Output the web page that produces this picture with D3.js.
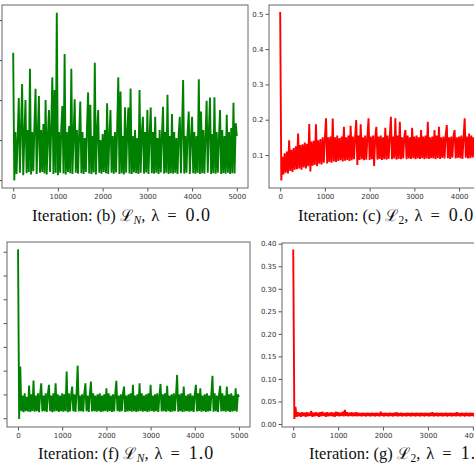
<!DOCTYPE html>
<html>
<head>
<meta charset="utf-8">
<script src="https://cdn.jsdelivr.net/npm/d3@7"></script>
<style>
  html, body { margin: 0; padding: 0; background: #fff; overflow: hidden; }
  .tick text { font-family: "DejaVu Sans", sans-serif; font-size: 7px; fill: #333; }
  .tick line { stroke: #555; }
  .cap { font-family: "Liberation Serif", "DejaVu Serif", serif; font-size: 16.5px; fill: #111; }
</style>
</head>
<body>
<svg id="chart" width="474" height="474"></svg>
<script>
// iterations are logged every STEP steps, 0..5000
const STEP = 25;
const xTicks = [0, 1000, 2000, 3000, 4000, 5000];

// (b) L_N, lambda = 0.0  (y in axis units, tick labels are cropped off)
const lossB = [
  3.18, -0.01, 1.20, 0.15, 1.05, 2.05, 0.18, 1.30, 2.40, 0.12, 1.10, 2.00, 0.17, 1.25, 0.20, 2.78, 0.14, 1.20, 0.22, 1.35,
  2.28, 0.15, 1.15, 2.10, 0.18, 1.25, 0.20, 1.40, 0.16, 2.00, 0.14, 1.10, 1.75, 0.20, 1.30, 2.57, 0.15, 2.25, 0.18, 4.18,
  0.12, 1.20, 0.18, 1.30, 1.85, 0.16, 3.15, 0.14, 1.20, 0.20, 1.35, 0.17, 2.78, 0.15, 1.10, 2.02, 0.18, 1.25, 0.16, 1.15,
  1.96, 0.17, 1.20, 0.15, 1.05, 0.20, 1.30, 2.19, 0.16, 1.88, 0.15, 1.10, 0.19, 2.93, 0.14, 1.20, 1.75, 0.18, 1.00, 0.16,
  1.15, 0.20, 1.25, 0.17, 1.92, 0.15, 1.05, 1.75, 0.18, 1.10, 0.16, 1.20, 0.19, 1.30, 2.57, 0.15, 2.21, 0.17, 1.10, 0.14,
  1.82, 0.18, 1.20, 1.81, 0.16, 2.29, 0.15, 1.10, 0.19, 1.25, 0.17, 1.05, 0.15, 2.25, 0.18, 1.15, 1.58, 0.16, 1.20, 0.19,
  1.75, 0.15, 1.10, 1.81, 0.17, 1.20, 0.16, 1.58, 0.18, 1.05, 0.15, 1.25, 0.19, 1.10, 1.83, 0.16, 1.20, 0.18, 2.13, 0.15,
  1.10, 0.17, 1.65, 0.16, 1.20, 0.18, 1.05, 0.15, 1.15, 1.58, 0.17, 1.25, 2.50, 0.16, 1.10, 0.18, 1.20, 1.71, 0.15, 1.05,
  1.58, 0.17, 1.20, 0.16, 1.10, 0.18, 2.52, 0.15, 1.71, 0.17, 1.25, 0.16, 1.10, 1.98, 0.18, 1.20, 2.06, 0.15, 1.15, 0.17,
  2.07, 0.16, 1.20, 0.18, 1.05, 1.75, 0.15, 1.25, 0.17, 1.10, 0.16, 1.63, 0.18, 1.20, 0.15, 1.30, 0.17, 1.93, 0.16, 1.42, 1.10
];

// (c) L_2, lambda = 0.0
const lossC = [
  0.505, 0.028, 0.095, 0.045, 0.105, 0.050, 0.110, 0.048, 0.142, 0.055, 0.115, 0.052, 0.120, 0.058, 0.125, 0.060, 0.161, 0.062, 0.128, 0.058,
  0.130, 0.065, 0.135, 0.062, 0.132, 0.068, 0.188, 0.053, 0.138, 0.070, 0.140, 0.072, 0.187, 0.068, 0.142, 0.075, 0.145, 0.073, 0.150, 0.078,
  0.148, 0.204, 0.076, 0.150, 0.080, 0.152, 0.078, 0.203, 0.082, 0.150, 0.080, 0.155, 0.083, 0.148, 0.085, 0.152, 0.082, 0.180, 0.084, 0.150,
  0.086, 0.155, 0.083, 0.183, 0.085, 0.152, 0.088, 0.150, 0.199, 0.072, 0.155, 0.086, 0.187, 0.088, 0.150, 0.085, 0.155, 0.087, 0.150, 0.204,
  0.086, 0.152, 0.088, 0.155, 0.069, 0.150, 0.180, 0.087, 0.152, 0.089, 0.155, 0.086, 0.150, 0.088, 0.177, 0.087, 0.155, 0.089, 0.150, 0.208,
  0.088, 0.152, 0.090, 0.204, 0.087, 0.155, 0.089, 0.194, 0.088, 0.150, 0.090, 0.152, 0.171, 0.088, 0.155, 0.090, 0.150, 0.089, 0.177, 0.091,
  0.152, 0.088, 0.155, 0.090, 0.150, 0.089, 0.171, 0.091, 0.152, 0.088, 0.155, 0.090, 0.194, 0.089, 0.150, 0.091, 0.152, 0.090, 0.171, 0.088,
  0.155, 0.091, 0.180, 0.089, 0.150, 0.092, 0.152, 0.090, 0.155, 0.185, 0.091, 0.150, 0.089, 0.152, 0.092, 0.155, 0.171, 0.090, 0.150, 0.092,
  0.152, 0.091, 0.155, 0.089, 0.150, 0.204, 0.092, 0.152, 0.090, 0.161, 0.091, 0.155, 0.093, 0.150, 0.090, 0.180, 0.092, 0.152, 0.091, 0.155,
  0.093, 0.175, 0.090, 0.152, 0.092, 0.150, 0.091, 0.190, 0.093, 0.155, 0.090, 0.152, 0.092, 0.170, 0.091, 0.150, 0.093, 0.155, 0.092, 0.150, 0.120
];

// (f) L_N, lambda = 1.0  (y in axis units, tick labels are cropped off)
const lossF = [
  7.10, -0.03, 2.17, 0.30, 0.95, 0.25, 1.05, 0.30, 0.90, 0.28, 1.37, 0.26, 1.00, 0.30, 1.58, 0.27, 0.95, 0.29, 1.05, 0.25,
  1.00, 1.47, 0.28, 0.95, 0.30, 1.05, 0.26, 1.00, 1.40, 0.29, 0.95, 0.25, 1.05, 0.28, 1.47, 0.30, 1.00, 0.26, 0.95, 0.29,
  1.05, 0.27, 1.00, 0.30, 1.96, 0.25, 1.05, 0.28, 0.95, 1.33, 0.29, 1.00, 0.26, 1.05, 2.21, 0.28, 0.95, 0.30, 1.00, 0.27,
  1.05, 1.47, 0.29, 0.95, 0.26, 1.00, 1.54, 0.28, 1.05, 0.30, 0.95, 0.27, 1.00, 0.29, 1.05, 0.26, 0.95, 0.28, 1.00, 0.30,
  1.26, 0.27, 1.05, 0.29, 0.95, 0.26, 1.00, 0.28, 1.05, 1.57, 0.30, 0.95, 0.27, 1.00, 0.29, 1.05, 1.33, 0.26, 0.95, 0.28,
  1.00, 0.30, 1.05, 0.27, 1.40, 0.29, 0.95, 0.26, 1.00, 0.28, 1.47, 0.30, 1.05, 0.27, 0.95, 0.29, 1.00, 0.26, 1.05, 0.28,
  1.40, 0.30, 0.95, 0.27, 1.00, 0.29, 1.05, 0.26, 0.95, 1.44, 0.28, 1.00, 0.30, 1.05, 0.27, 1.36, 0.29, 0.95, 0.26, 1.00,
  0.28, 1.05, 0.30, 0.95, 1.82, 0.27, 1.00, 0.29, 1.05, 0.26, 1.33, 0.28, 0.95, 0.30, 1.00, 0.27, 1.05, 0.29, 0.95, 0.26,
  1.00, 1.40, 0.28, 1.05, 0.30, 1.26, 0.27, 0.95, 0.29, 1.00, 0.26, 1.05, 0.28, 0.95, 0.30, 1.00, 1.78, 0.27, 1.05, 0.29,
  0.95, 0.26, 1.00, 1.36, 0.28, 1.05, 0.30, 0.95, 0.27, 1.33, 0.29, 1.00, 0.26, 1.05, 0.28, 0.95, 0.30, 1.26, 0.27, 1.00, 0.90
];

// (g) L_2, lambda = 1.0
const lossG = [
  0.387, 0.011, 0.038, 0.016, 0.026, 0.017, 0.025, 0.016, 0.026, 0.018, 0.025, 0.016, 0.026, 0.017, 0.025, 0.018, 0.029, 0.016, 0.025, 0.017,
  0.026, 0.018, 0.025, 0.016, 0.026, 0.017, 0.027, 0.018, 0.025, 0.016, 0.026, 0.017, 0.025, 0.018, 0.026, 0.017, 0.025, 0.016, 0.027, 0.018,
  0.026, 0.017, 0.025, 0.018, 0.027, 0.017, 0.031, 0.018, 0.026, 0.017, 0.025, 0.018, 0.026, 0.017, 0.025, 0.018, 0.026, 0.017, 0.025, 0.018,
  0.024, 0.017, 0.025, 0.018, 0.024, 0.017, 0.025, 0.018, 0.024, 0.017, 0.025, 0.018, 0.024, 0.017, 0.025, 0.018, 0.024, 0.017, 0.027, 0.018,
  0.024, 0.017, 0.025, 0.018, 0.024, 0.017, 0.025, 0.018, 0.024, 0.017, 0.025, 0.018, 0.026, 0.017, 0.024, 0.018, 0.025, 0.017, 0.024, 0.018,
  0.024, 0.017, 0.025, 0.018, 0.024, 0.017, 0.025, 0.018, 0.024, 0.017, 0.025, 0.018, 0.024, 0.017, 0.025, 0.018, 0.024, 0.017, 0.025, 0.018,
  0.024, 0.017, 0.025, 0.018, 0.026, 0.017, 0.024, 0.018, 0.025, 0.017, 0.024, 0.018, 0.025, 0.017, 0.024, 0.018, 0.025, 0.017, 0.024, 0.018,
  0.025, 0.017, 0.024, 0.018, 0.025, 0.017, 0.026, 0.018, 0.024, 0.017, 0.025, 0.018, 0.024, 0.017, 0.025, 0.018, 0.024, 0.017, 0.025, 0.018,
  0.024, 0.017, 0.025, 0.018, 0.024, 0.017, 0.025, 0.018, 0.026, 0.017, 0.024, 0.018, 0.025, 0.017, 0.024, 0.018, 0.025, 0.017, 0.024, 0.018,
  0.025, 0.017, 0.024, 0.018, 0.025, 0.017, 0.024, 0.018, 0.025, 0.017, 0.024, 0.018, 0.025, 0.017, 0.024, 0.018, 0.025, 0.017, 0.024, 0.018, 0.022
];

const ticksB = [0, 1, 2, 3, 4];
const ticksC = [0.1, 0.2, 0.3, 0.4, 0.5];
const ticksF = [0, 1, 2, 3, 4, 5, 6, 7];
const ticksG = [0, 0.05, 0.10, 0.15, 0.20, 0.25, 0.30, 0.35, 0.40];

const svg = d3.select("#chart");
const noLabel = () => "";   // left-column y labels lie outside the cropped figure

const panels = [
  { data: lossB, color: "#008000", left: 2, right: 248, top: 5, bottom: 188,
    yDomain: [-0.2, 4.375], yTicks: ticksB, yFmt: noLabel,
    cap: { x: 32, y: 220.5, tag: "b", sub: "N", lam: "0.0" } },
  { data: lossC, color: "#ff0000", left: 269, right: 515, top: 5, bottom: 188,
    yDomain: [0.0065, 0.525], yTicks: ticksC, yFmt: d3.format(".1f"),
    cap: { x: 298, y: 220.5, tag: "c", sub: "2", lam: "0.0" } },
  { data: lossF, color: "#008000", left: 7, right: 250, top: 242, bottom: 427,
    yDomain: [-0.37, 7.41], yTicks: ticksF, yFmt: noLabel,
    cap: { x: 38, y: 458.5, tag: "f", sub: "N", lam: "1.0" } },
  { data: lossG, color: "#ff0000", left: 282, right: 529, top: 243, bottom: 427,
    yDomain: [-0.0067, 0.4016], yTicks: ticksG, yFmt: d3.format(".2f"),
    cap: { x: 309, y: 458.5, tag: "g", sub: "2", lam: "1.0" } }
];

panels.forEach((p, k) => {
  const x = d3.scaleLinear().domain([-250, 5250]).range([p.left, p.right]);
  const y = d3.scaleLinear().domain(p.yDomain).range([p.bottom, p.top]);
  const g = svg.append("g");

  g.append("clipPath").attr("id", "clip" + k)
    .append("rect").attr("x", p.left).attr("y", p.top)
    .attr("width", p.right - p.left).attr("height", p.bottom - p.top);

  g.append("path").datum(p.data)
    .attr("clip-path", `url(#clip${k})`)
    .attr("fill", "none").attr("stroke", p.color).attr("stroke-width", 1.9)
    .attr("stroke-linejoin", "bevel")
    .attr("d", d3.line().x((d, i) => x(i * STEP)).y(d => y(d)));

  g.append("g").attr("transform", `translate(0,${p.bottom})`)
    .call(d3.axisBottom(x).tickValues(xTicks).tickFormat(d3.format("d")).tickSize(3.5).tickPadding(2.5))
    .call(a => a.select(".domain").remove());
  g.append("g").attr("transform", `translate(${p.left},0)`)
    .call(d3.axisLeft(y).tickValues(p.yTicks).tickFormat(p.yFmt).tickSize(3.5).tickPadding(2))
    .call(a => a.select(".domain").remove());

  g.append("rect").attr("x", p.left).attr("y", p.top)
    .attr("width", p.right - p.left).attr("height", p.bottom - p.top)
    .attr("fill", "none").attr("stroke", "#666").attr("stroke-width", 1);

  // caption: Iteration: (tag) L_sub, λ = val
  const c = g.append("text").attr("class", "cap").attr("x", p.cap.x).attr("y", p.cap.y);
  c.append("tspan").text(`Iteration: (${p.cap.tag}) `);
  c.append("tspan").style("font-family", "'DejaVu Serif', serif").style("font-size", "16px").text("\u2112");
  c.append("tspan").attr("dy", 3.5).attr("dx", 0.5)
    .style("font-size", "11.5px").style("font-style", p.cap.sub === "N" ? "italic" : "normal").text(p.cap.sub);
  c.append("tspan").attr("dy", -3.5).text(",");
  c.append("tspan").attr("dx", 6).text("\u03BB");
  c.append("tspan").attr("dx", 8).text("=");
  c.append("tspan").attr("dx", 9).style("font-size", "18px").style("letter-spacing", "1px").text(p.cap.lam);
});
</script>
</body>
</html>
